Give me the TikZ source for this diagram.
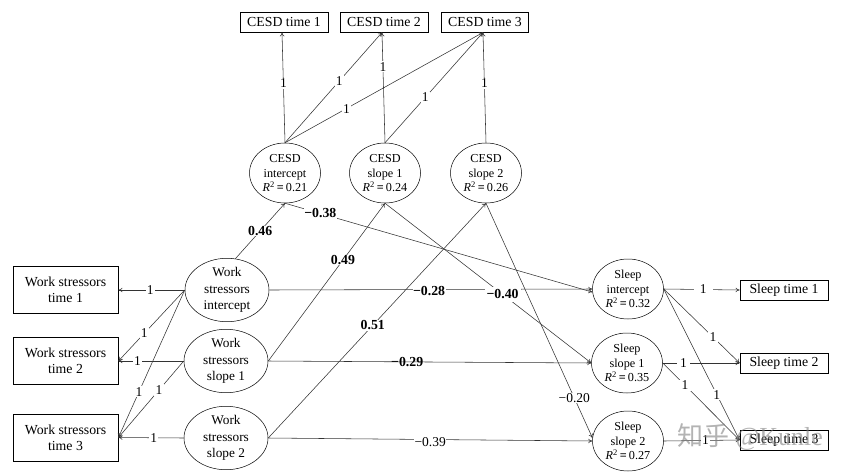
\documentclass[tikz,border=0pt]{standalone}
\usepackage{fontspec}
\setmainfont{Liberation Serif}
\newfontfamily\cjkwm{Noto Sans CJK SC}
\usetikzlibrary{shapes.geometric,arrows.meta}
\tikzset{
  boxa/.style={draw,line width=0.9pt,rectangle,inner sep=0pt,align=center,font=\fontsize{13.8}{16}\selectfont},
  lat/.style={draw,line width=0.5pt,ellipse,inner sep=0pt,align=center,font=\fontsize{12.2}{15}\selectfont},
  latc/.style={lat,minimum width=71pt,minimum height=60pt},
  latw/.style={lat,minimum width=84pt,minimum height=61pt,font=\fontsize{13.3}{16.4}\selectfont},
  arr/.style={draw=black!80,line width=0.55pt,-{To[length=4pt,width=4.5pt]}},
  lab/.style={fill=white,inner sep=1.2pt,font=\fontsize{13.5}{14}\selectfont},
  labb/.style={fill=white,inner sep=0.6pt,font=\fontsize{13.8}{14}\selectfont\bfseries},
  labo/.style={inner sep=0.6pt,font=\fontsize{13.8}{14}\selectfont\bfseries},
  labn/.style={fill=white,inner sep=0.6pt,font=\fontsize{13.5}{14}\selectfont}
}
\newcommand{\rsq}[1]{\textit{R}\textsuperscript{2}\,\textbf{=}\,#1}
\begin{document}
\begin{tikzpicture}[x=1pt,y=-1pt]
\useasboundingbox (0,0) rectangle (846,472);
% outcome boxes, CESD
\node[boxa,minimum width=88pt,minimum height=20pt] (ct1) at (284,22) {CESD time 1};
\node[boxa,minimum width=88pt,minimum height=20pt] (ct2) at (384,22) {CESD time 2};
\node[boxa,minimum width=87pt,minimum height=20pt] (ct3) at (485,22) {CESD time 3};
% CESD latents
\node[latc] (ci) at (285,173) {CESD\\intercept\\[-1pt]\rsq{0.21}};
\node[latc] (cs1) at (385,173) {CESD\\slope 1\\[-1pt]\rsq{0.24}};
\node[latc] (cs2) at (486,173) {CESD\\slope 2\\[-1pt]\rsq{0.26}};
% Work boxes
\node[boxa,minimum width=105pt,minimum height=47pt] (w1) at (65.5,290) {Work stressors\\time 1};
\node[boxa,minimum width=105pt,minimum height=47pt] (w2) at (65.5,361) {Work stressors\\time 2};
\node[boxa,minimum width=105pt,minimum height=47pt] (w3) at (65.5,437.5) {Work stressors\\time 3};
% Work latents
\node[latw] (wi) at (227,290) {Work\\stressors\\intercept};
\node[latw] (ws1) at (226,361) {Work\\stressors\\slope 1};
\node[latw] (ws2) at (226,438) {Work\\stressors\\slope 2};
% Sleep latents
\node[latc] (si) at (628,289) {Sleep\\intercept\\[-1pt]\rsq{0.32}};
\node[latc] (ss1) at (627,363) {Sleep\\slope 1\\[-1pt]\rsq{0.35}};
\node[latc] (ss2) at (628,441) {Sleep\\slope 2\\[-1pt]\rsq{0.27}};
% Sleep boxes
\node[boxa,minimum width=88pt,minimum height=20pt] (l1) at (784,290) {Sleep time 1};
\node[boxa,minimum width=88pt,minimum height=20pt] (l2) at (784,363) {Sleep time 2};
\node[boxa,minimum width=88pt,minimum height=20pt] (l3) at (784,440) {Sleep time 3};
% tip anchors
\coordinate (ct1t) at ([xshift=-2pt]ct1.south);
\coordinate (ct2t) at ([xshift=-2pt]ct2.south);
\coordinate (ct3t) at ([xshift=-2pt]ct3.south);
% CESD indicators
\draw[arr] (ci.north) -- node[lab,pos=.54]{1} (ct1t);
\draw[arr] (ci.north) -- node[lab,pos=.56]{1} (ct2t);
\draw[arr] (ci.north) -- node[lab,pos=.31]{1} (ct3t);
\draw[arr] (cs1.north) -- node[lab,pos=.69]{1} (ct2t);
\draw[arr] (cs1.north) -- node[lab,pos=.41]{1} (ct3t);
\draw[arr] (cs2.north) -- node[lab,pos=.54]{1} (ct3t);
% Work indicators
\draw[arr] (wi.west) -- node[lab,pos=.52]{1} (w1.east);
\draw[arr] (wi.west) -- node[lab,pos=.61]{1} (w2.east);
\draw[arr] (wi.west) -- node[lab,pos=.69]{1} (w3.east);
\draw[arr] (ws1.west) -- node[lab,pos=.71]{1} (w2.east);
\draw[arr] (ws1.west) -- node[lab,pos=.38]{1} (w3.east);
\draw[arr] (ws2.west) -- node[lab,pos=.46]{1} (w3.east);
% Sleep indicators
\draw[arr] (si.east) -- node[lab,pos=.52,inner xsep=6pt]{1} (l1.west);
\draw[arr] (si.east) -- node[lab,pos=.65]{1} (l2.west);
\draw[arr] (si.east) -- node[lab,pos=.70]{1} (l3.west);
\draw[arr] (ss1.east) -- node[lab,pos=.27,inner xsep=3pt]{1} (l2.west);
\draw[arr] (ss1.east) -- node[lab,pos=.29,inner xsep=3pt]{1} (l3.west);
\draw[arr] (ss2.east) -- node[lab,pos=.55]{1} (l3.west);
% Structural paths
\draw[arr] (wi.75) -- node[labb,pos=.5]{0.46} (ci.south);
\draw[arr] (ws1.east) -- node[labb,pos=.64]{0.49} (cs1.south);
\draw[arr] (ws2.east) -- node[labb,pos=.48]{0.51} (cs2.south);
\draw[arr] (wi.east) -- node[labb,pos=.495,yshift=-1.5pt]{−0.28} (si.west);
\draw[arr] (ws1.east) -- node[labo,pos=.43]{−0.29} (ss1.west);
\draw[arr] (ws2.east) -- node[labn,pos=.5,yshift=-2.5pt]{−0.39} (ss2.west);
\draw[arr] (ci.south) -- node[labb,pos=.115]{−0.38} (si.185);
\draw[arr] (cs1.south) -- node[labb,pos=.57,inner xsep=2pt,inner ysep=3pt]{−0.40} (ss1.west);
\draw[arr] (cs2.south) -- node[labn,pos=.83]{−0.20} (ss2.175);
% watermark
\node[text=gray,opacity=.6,font=\fontsize{26}{28}\selectfont] (wm) at (750,437) {{\cjkwm 知乎} @Kunle};
\end{tikzpicture}
\end{document}
